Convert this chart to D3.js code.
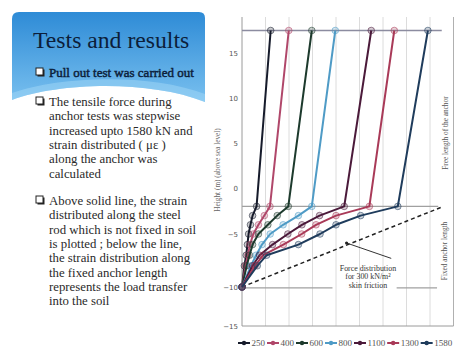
<!DOCTYPE html>
<html><head><meta charset="utf-8">
<script src="https://cdn.jsdelivr.net/npm/d3@7"></script>
<style>body{margin:0;background:#fff}svg{display:block}</style>
</head><body><svg id="c" width="474" height="355"></svg>
<script>
// ---------- data ----------
const loads = ["250","400","600","800","1100","1300","1580"];
const colors = ["#161b2b","#b0476a","#1d3a2d","#4f9bc6","#4b1a3a","#a93a58","#1f3c5c"];
const depths = [17.5,-2,-3,-4,-5,-6,-7,-8,-10];
const s250  = [122,62,45,36,28,23,18,10,0];
const s400  = [199,119,95,70,48,34,25,15,0];
const s600  = [297,197,150,110,70,45,32,20,0];
const s800  = [397,297,240,175,120,85,60,38,0];
const s1100 = [550,435,330,255,195,130,75,45,0];
const s1300 = [648,542,400,315,254,176,90,55,0];
const s1580 = [791,663,505,400,332,240,105,65,0];
const seriesValues = [s250,s400,s600,s800,s1100,s1300,s1580];
const yTicks = [-15,-10,-5,0,5,10,15];
const gridValues = [100,200,300,400,500,600,700,800];
const title = "Tests and results";
const bullet1 = ["Pull out test was carried out"];
const bullet2 = ["The tensile force during","anchor tests was stepwise","increased upto 1580 kN and","strain distributed ( \u03bc\u03b5 )","along the anchor was","calculated"];
const bullet3 = ["Above solid line, the strain","distributed along the steel","rod which is not fixed in soil","is plotted ; below the line,","the strain distribution along","the fixed anchor length","represents the load transfer","into the soil"];
const annotation = ["Force distribution","for 300 kN/m\u00b2","skin friction"];

// ---------- slide ----------
const svg = d3.select("#c");
const defs = svg.append("defs");
const g1 = defs.append("linearGradient").attr("id","bg").attr("x1",0).attr("y1",0).attr("x2",0).attr("y2",1);
g1.append("stop").attr("offset","0%").attr("stop-color","#2e8bd6");
g1.append("stop").attr("offset","100%").attr("stop-color","#79c0ef");

svg.append("path").attr("fill","url(#bg)")
  .attr("d","M12,100 L12,19 Q12,12 19,12 L199,12 Q205,12 205,18 L205,102 C150,80 60,82 12,100 Z");
svg.append("path").attr("fill","#a9dbf8").attr("opacity",0.45)
  .attr("d","M12,100 C60,82 150,80 205,102 L205,94 C150,73 60,76 12,93 Z");

const serif = "'Liberation Serif','Times New Roman',serif";
svg.append("text").attr("x",33).attr("y",48).attr("font-family",serif)
  .attr("font-size",23.7).attr("fill","#0c1e3a").text(title);

function checkbox(x,b){
  svg.append("rect").attr("x",x+1.5).attr("y",b-7.5).attr("width",7).attr("height",7).attr("fill","#222");
  svg.append("rect").attr("x",x).attr("y",b-9).attr("width",7).attr("height",7).attr("fill","#fff").attr("stroke","#222").attr("stroke-width",1);
}
function para(lines,b0,color,strokeW,size){
  lines.forEach((t,i)=>{
    svg.append("text").attr("x",49).attr("y",b0+i*14.3).attr("font-family",serif)
      .attr("font-size",size).attr("fill",color)
      .attr("stroke",strokeW>0?color:"none").attr("stroke-width",strokeW).text(t);
  });
}
checkbox(36,77); para(bullet1,77,"#0c1e3a",0.45,13);
checkbox(36,106); para(bullet2,106,"#2a2a2a",0,12.8);
checkbox(36,205); para(bullet3,205,"#2a2a2a",0,12.8);

// ---------- chart ----------
const x = d3.scaleLinear().domain([0,900]).range([242,453.5]);
const y = d3.scaleLinear().domain([19,0,-5,-10,-15]).range([17,188,234,287,326]);
const ch = svg.append("g");

ch.selectAll(".grid").data(gridValues).join("line")
  .attr("x1",d=>x(d)).attr("x2",d=>x(d)).attr("y1",y(19)).attr("y2",y(-15))
  .attr("stroke","#dcdcdc").attr("stroke-width",1);
ch.append("line").attr("x1",x(0)).attr("x2",x(0)).attr("y1",y(19)).attr("y2",y(-15)).attr("stroke","#9a9a9a");
ch.append("line").attr("x1",x(900)).attr("x2",x(900)).attr("y1",y(19)).attr("y2",y(-15)).attr("stroke","#b0b0b0");
ch.append("line").attr("x1",x(0)).attr("x2",x(900)).attr("y1",y(-15)).attr("y2",y(-15)).attr("stroke","#9a9a9a");

const ax = ch.append("g").attr("transform",`translate(${x(0)},0)`)
  .call(d3.axisLeft(y).tickValues(yTicks).tickSize(0).tickPadding(4));
ax.select(".domain").remove();
ax.selectAll("text").attr("font-family","'DejaVu Sans',sans-serif").attr("font-size",7).attr("fill","#555");

ch.append("text").attr("transform",`translate(220,170) rotate(-90)`).attr("text-anchor","middle")
  .attr("font-family",serif).attr("font-size",7.3).attr("fill","#666").text("Height (m) (above sea level)");

// reference lines
ch.append("line").attr("x1",x(0)).attr("x2",x(850)).attr("y1",y(17.5)).attr("y2",y(17.5)).attr("stroke","#8c8ca0").attr("stroke-width",1.3);
ch.append("line").attr("x1",x(0)).attr("x2",x(835)).attr("y1",y(-2)).attr("y2",y(-2)).attr("stroke","#a0a0a0").attr("stroke-width",1.2);
ch.append("line").attr("x1",x(0)).attr("x2",x(385)).attr("y1",y(-10.1)).attr("y2",y(-10.1)).attr("stroke","#a0a0a0").attr("stroke-width",1.2);
ch.append("line").attr("x1",x(658)).attr("x2",x(830)).attr("y1",y(-10.1)).attr("y2",y(-10.1)).attr("stroke","#a0a0a0").attr("stroke-width",1.2);
ch.append("line").attr("x1",x(0)).attr("x2",x(857)).attr("y1",y(-10)).attr("y2",y(-2))
  .attr("stroke","#222").attr("stroke-width",1.5).attr("stroke-dasharray","4,3");

// annotation
ch.append("line").attr("x1",x(635)).attr("y1",y(-7.3)).attr("x2",x(445)).attr("y2",y(-5.85))
  .attr("stroke","#333").attr("stroke-width",1);
ch.append("circle").attr("cx",x(445)).attr("cy",y(-5.85)).attr("r",1.6).attr("fill","#222");
annotation.forEach((t,i)=>{
  ch.append("text").attr("x",x(536)).attr("y",y(-10)-16.5+i*8.6).attr("text-anchor","middle")
    .attr("font-family",serif).attr("font-size",7.9).attr("fill","#333").text(t);
});
ch.append("text").attr("transform",`translate(${x(870)},${y(6.1)}) rotate(-90)`).attr("text-anchor","middle")
  .attr("dominant-baseline","middle").attr("font-family",serif).attr("font-size",7.3).attr("fill","#555").text("Free length of the anchor");
ch.append("text").attr("transform",`translate(${x(866)},${y(-6.6)}) rotate(-90)`).attr("text-anchor","middle")
  .attr("dominant-baseline","middle").attr("font-family",serif).attr("font-size",7.3).attr("fill","#555").text("Fixed anchor length");

// series
const line = d3.line().x(d=>x(d.v)).y(d=>y(d.h));
seriesValues.forEach((vals,k)=>{
  const pts = vals.map((v,i)=>({v:v,h:depths[i]}));
  ch.append("path").datum(pts).attr("d",line).attr("fill","none")
    .attr("stroke",colors[k]).attr("stroke-width",2).attr("stroke-linejoin","round");
  ch.selectAll(null).data(pts).join("circle").attr("cx",d=>x(d.v)).attr("cy",d=>y(d.h)).attr("r",3.3)
    .attr("fill",colors[k]).attr("fill-opacity",0.22).attr("stroke",colors[k]).attr("stroke-opacity",0.55).attr("stroke-width",1);
});

// legend
let lx = 238; const ly = 343;
loads.forEach((name,k)=>{
  ch.append("line").attr("x1",lx).attr("x2",lx+12).attr("y1",ly).attr("y2",ly).attr("stroke",colors[k]).attr("stroke-width",2);
  ch.append("circle").attr("cx",lx+6).attr("cy",ly).attr("r",2.2).attr("fill",colors[k]);
  const t = ch.append("text").attr("x",lx+13.5).attr("y",ly+3).attr("font-family",serif).attr("font-size",9)
    .attr("fill","#555").text(name);
  lx += 13.5 + t.node().getComputedTextLength() + 2;
});
</script></body></html>
